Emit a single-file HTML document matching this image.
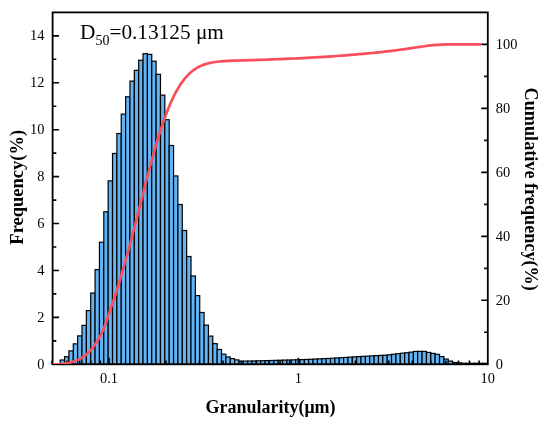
<!DOCTYPE html><html><head><meta charset="utf-8"><title>Granularity distribution</title>
<style>html,body{margin:0;padding:0;background:#fff}svg{display:block}text{font-family:"Liberation Serif","Times New Roman",serif;fill:#000}.t{font-size:14.4px}.b{font-weight:bold;font-size:18px}</style></head><body>
<svg width="550" height="422" viewBox="0 0 550 422">
<defs><clipPath id="pc"><rect x="52.6" y="12.4" width="435.2" height="351.50"/></clipPath></defs>
<rect width="550" height="422" fill="#fff"/>
<g fill="#62b4f5" stroke="#000" stroke-width="1.2">
<rect x="60.20" y="360.02" width="4.36" height="4.28"/>
<rect x="64.56" y="356.74" width="4.36" height="7.56"/>
<rect x="68.92" y="350.89" width="4.36" height="13.41"/>
<rect x="73.28" y="343.86" width="4.36" height="20.44"/>
<rect x="77.64" y="335.90" width="4.36" height="28.40"/>
<rect x="82.00" y="325.36" width="4.36" height="38.94"/>
<rect x="86.36" y="310.61" width="4.36" height="53.69"/>
<rect x="90.72" y="293.04" width="4.36" height="71.26"/>
<rect x="95.08" y="269.62" width="4.36" height="94.68"/>
<rect x="99.44" y="242.22" width="4.36" height="122.08"/>
<rect x="103.80" y="211.77" width="4.36" height="152.53"/>
<rect x="108.16" y="180.86" width="4.36" height="183.44"/>
<rect x="112.52" y="153.46" width="4.36" height="210.84"/>
<rect x="116.88" y="133.55" width="4.36" height="230.75"/>
<rect x="121.24" y="114.11" width="4.36" height="250.19"/>
<rect x="125.60" y="96.78" width="4.36" height="267.52"/>
<rect x="129.96" y="81.09" width="4.36" height="283.21"/>
<rect x="134.32" y="70.32" width="4.36" height="293.98"/>
<rect x="138.68" y="60.25" width="4.36" height="304.05"/>
<rect x="143.04" y="53.69" width="4.36" height="310.61"/>
<rect x="147.40" y="54.39" width="4.36" height="309.91"/>
<rect x="151.76" y="61.18" width="4.36" height="303.12"/>
<rect x="156.12" y="74.30" width="4.36" height="290.00"/>
<rect x="160.48" y="95.14" width="4.36" height="269.16"/>
<rect x="164.84" y="119.73" width="4.36" height="244.57"/>
<rect x="169.20" y="145.49" width="4.36" height="218.81"/>
<rect x="173.56" y="175.94" width="4.36" height="188.36"/>
<rect x="177.92" y="204.51" width="4.36" height="159.79"/>
<rect x="182.28" y="230.51" width="4.36" height="133.79"/>
<rect x="186.64" y="256.50" width="4.36" height="107.80"/>
<rect x="191.00" y="275.94" width="4.36" height="88.36"/>
<rect x="195.36" y="295.62" width="4.36" height="68.68"/>
<rect x="199.72" y="312.48" width="4.36" height="51.82"/>
<rect x="204.08" y="325.13" width="4.36" height="39.17"/>
<rect x="208.44" y="336.13" width="4.36" height="28.17"/>
<rect x="212.80" y="343.63" width="4.36" height="20.67"/>
<rect x="217.16" y="349.48" width="4.36" height="14.82"/>
<rect x="221.52" y="354.17" width="4.36" height="10.13"/>
<rect x="225.88" y="356.98" width="4.36" height="7.32"/>
<rect x="230.24" y="358.62" width="4.36" height="5.68"/>
<rect x="234.60" y="359.90" width="4.36" height="4.40"/>
<rect x="238.96" y="361.19" width="4.36" height="3.11"/>
<rect x="243.32" y="361.13" width="4.36" height="3.17"/>
<rect x="247.68" y="361.05" width="4.36" height="3.25"/>
<rect x="252.04" y="360.97" width="4.36" height="3.33"/>
<rect x="256.40" y="360.86" width="4.36" height="3.44"/>
<rect x="260.76" y="360.73" width="4.36" height="3.57"/>
<rect x="265.12" y="360.61" width="4.36" height="3.69"/>
<rect x="269.48" y="360.49" width="4.36" height="3.81"/>
<rect x="273.84" y="360.37" width="4.36" height="3.93"/>
<rect x="278.20" y="360.24" width="4.36" height="4.06"/>
<rect x="282.56" y="360.12" width="4.36" height="4.18"/>
<rect x="286.92" y="360.00" width="4.36" height="4.30"/>
<rect x="291.28" y="359.88" width="4.36" height="4.42"/>
<rect x="295.64" y="359.75" width="4.36" height="4.55"/>
<rect x="300.00" y="359.63" width="4.36" height="4.67"/>
<rect x="304.36" y="359.48" width="4.36" height="4.82"/>
<rect x="308.72" y="359.28" width="4.36" height="5.02"/>
<rect x="313.08" y="359.07" width="4.36" height="5.23"/>
<rect x="317.44" y="358.87" width="4.36" height="5.43"/>
<rect x="321.80" y="358.66" width="4.36" height="5.64"/>
<rect x="326.16" y="358.46" width="4.36" height="5.84"/>
<rect x="330.52" y="358.22" width="4.36" height="6.08"/>
<rect x="334.88" y="357.96" width="4.36" height="6.34"/>
<rect x="339.24" y="357.69" width="4.36" height="6.61"/>
<rect x="343.60" y="357.43" width="4.36" height="6.87"/>
<rect x="347.96" y="357.17" width="4.36" height="7.13"/>
<rect x="352.32" y="356.91" width="4.36" height="7.39"/>
<rect x="356.68" y="356.64" width="4.36" height="7.66"/>
<rect x="361.04" y="356.38" width="4.36" height="7.92"/>
<rect x="365.40" y="356.14" width="4.36" height="8.16"/>
<rect x="369.76" y="355.90" width="4.36" height="8.40"/>
<rect x="374.12" y="355.67" width="4.36" height="8.63"/>
<rect x="378.48" y="355.44" width="4.36" height="8.86"/>
<rect x="382.84" y="355.21" width="4.36" height="9.09"/>
<rect x="387.20" y="354.80" width="4.36" height="9.50"/>
<rect x="391.56" y="354.24" width="4.36" height="10.06"/>
<rect x="395.92" y="353.69" width="4.36" height="10.61"/>
<rect x="400.28" y="353.22" width="4.36" height="11.08"/>
<rect x="404.64" y="352.76" width="4.36" height="11.54"/>
<rect x="409.00" y="352.16" width="4.36" height="12.14"/>
<rect x="413.36" y="351.43" width="4.36" height="12.87"/>
<rect x="417.72" y="351.36" width="4.36" height="12.94"/>
<rect x="422.08" y="351.42" width="4.36" height="12.88"/>
<rect x="426.44" y="352.44" width="4.36" height="11.86"/>
<rect x="430.80" y="353.41" width="4.36" height="10.89"/>
<rect x="435.16" y="354.34" width="4.36" height="9.96"/>
<rect x="439.52" y="356.59" width="4.36" height="7.71"/>
<rect x="443.88" y="359.11" width="4.36" height="5.19"/>
<rect x="448.24" y="361.11" width="4.36" height="3.19"/>
<rect x="452.60" y="362.53" width="4.36" height="1.77"/>
<rect x="456.96" y="362.92" width="4.36" height="1.38"/>
<rect x="461.32" y="363.26" width="4.36" height="1.04"/>
<rect x="465.68" y="363.30" width="4.36" height="1.00"/>
<rect x="470.04" y="363.30" width="4.36" height="1.00"/>
<rect x="474.40" y="363.30" width="4.36" height="1.00"/>
<rect x="478.76" y="363.30" width="4.36" height="1.00"/>
<rect x="483.12" y="363.30" width="4.36" height="1.00"/>
</g>
<rect x="52.6" y="12.4" width="435.2" height="351.90000000000003" fill="none" stroke="#000" stroke-width="1.8"/>
<path d="M52.6,364.30h6.5M52.6,340.84h3.7M52.6,317.38h6.5M52.6,293.92h3.7M52.6,270.46h6.5M52.6,247.00h3.7M52.6,223.54h6.5M52.6,200.08h3.7M52.6,176.62h6.5M52.6,153.16h3.7M52.6,129.70h6.5M52.6,106.24h3.7M52.6,82.78h6.5M52.6,59.32h3.7M52.6,35.86h6.5M487.8,364.30h-6.5M487.8,332.31h-3.7M487.8,300.32h-6.5M487.8,268.33h-3.7M487.8,236.34h-6.5M487.8,204.35h-3.7M487.8,172.35h-6.5M487.8,140.36h-3.7M487.8,108.37h-6.5M487.8,76.38h-3.7M487.8,44.39h-6.5M51.98,364.3v-3.7M66.98,364.3v-3.7M79.66,364.3v-3.7M90.65,364.3v-3.7M100.33,364.3v-3.7M109.00,364.3v-6.5M166.02,364.3v-3.7M199.37,364.3v-3.7M223.03,364.3v-3.7M241.38,364.3v-3.7M256.38,364.3v-3.7M269.06,364.3v-3.7M280.05,364.3v-3.7M289.73,364.3v-3.7M298.40,364.3v-6.5M355.42,364.3v-3.7M388.77,364.3v-3.7M412.43,364.3v-3.7M430.78,364.3v-3.7M445.78,364.3v-3.7M458.46,364.3v-3.7M469.45,364.3v-3.7M479.13,364.3v-3.7" stroke="#000" stroke-width="1.6" fill="none"/>
<path d="M52.60,364.30 L59.08,364.12 L63.44,363.75 L67.80,363.06 L72.16,361.98 L76.52,360.46 L80.88,358.35 L85.24,355.43 L89.60,351.52 L93.96,346.32 L98.32,339.59 L102.68,331.18 L106.54,321.04 L110.40,309.38 L114.76,296.62 L119.12,282.78 L123.48,267.97 L127.84,252.29 L132.20,236.02 L136.56,219.18 L140.92,201.98 L145.28,184.82 L149.64,168.04 L154.00,151.98 L158.36,137.08 L162.72,123.55 L167.08,111.45 L171.44,101.04 L175.80,92.22 L180.16,84.85 L184.52,78.91 L188.88,74.06 L193.24,70.30 L197.60,67.48 L201.96,65.36 L206.32,63.85 L210.68,62.75 L215.04,61.99 L219.40,61.48 L223.76,61.13 L228.12,60.87 L232.48,60.68 L236.84,60.56 L241.20,60.44 L245.56,60.32 L249.92,60.19 L254.28,60.05 L258.64,59.91 L263.00,59.76 L267.36,59.60 L271.72,59.44 L276.08,59.27 L280.44,59.09 L284.80,58.91 L289.16,58.72 L293.52,58.52 L297.88,58.32 L302.24,58.11 L306.60,57.88 L310.96,57.65 L315.32,57.40 L319.68,57.15 L324.04,56.88 L328.40,56.59 L332.76,56.30 L337.12,55.99 L341.48,55.66 L345.84,55.32 L350.20,54.96 L354.56,54.59 L358.92,54.21 L363.28,53.81 L367.64,53.40 L372.00,52.98 L376.36,52.54 L380.72,52.09 L385.08,51.62 L389.44,51.12 L393.80,50.58 L398.16,50.02 L402.52,49.44 L406.88,48.82 L411.24,48.16 L415.60,47.49 L419.96,46.83 L424.32,46.23 L428.68,45.68 L433.04,45.18 L437.40,44.81 L441.76,44.58 L446.12,44.46 L450.48,44.41 L454.84,44.39 L459.20,44.39 L463.56,44.39 L467.92,44.39 L472.28,44.39 L476.64,44.39 L481.00,44.39 L481.00,44.39" clip-path="url(#pc)" fill="none" stroke="#f84e5d" stroke-width="2.7" stroke-linejoin="round" stroke-linecap="butt"/>
<text class="t" x="44.4" y="368.65" text-anchor="end">0</text>
<text class="t" x="44.4" y="321.73" text-anchor="end">2</text>
<text class="t" x="44.4" y="274.81" text-anchor="end">4</text>
<text class="t" x="44.4" y="227.89" text-anchor="end">6</text>
<text class="t" x="44.4" y="180.97" text-anchor="end">8</text>
<text class="t" x="44.4" y="134.05" text-anchor="end">10</text>
<text class="t" x="44.4" y="87.13" text-anchor="end">12</text>
<text class="t" x="44.4" y="40.21" text-anchor="end">14</text>
<text class="t" x="495.8" y="368.65">0</text>
<text class="t" x="495.8" y="304.67">20</text>
<text class="t" x="495.8" y="240.69">40</text>
<text class="t" x="495.8" y="176.70">60</text>
<text class="t" x="495.8" y="112.72">80</text>
<text class="t" x="495.8" y="48.74">100</text>
<text class="t" x="109.00" y="382.7" text-anchor="middle">0.1</text>
<text class="t" x="298.40" y="382.7" text-anchor="middle">1</text>
<text class="t" x="487.80" y="382.7" text-anchor="middle">10</text>
<text class="b" x="270.5" y="412.9" text-anchor="middle">Granularity(μm)</text>
<text class="b" style="font-size:18.5px" transform="translate(22.8,187.3) rotate(-90)" text-anchor="middle">Frequency(%)</text>
<text class="b" style="font-size:18.2px" transform="translate(525.2,189.2) rotate(90)" text-anchor="middle">Cumulative frequency(%)</text>
<text x="80" y="39.2" style="font-size:21.3px">D<tspan dy="5.3" style="font-size:14px">50</tspan><tspan dy="-5.3">=0.13125 μm</tspan></text>
</svg></body></html>
